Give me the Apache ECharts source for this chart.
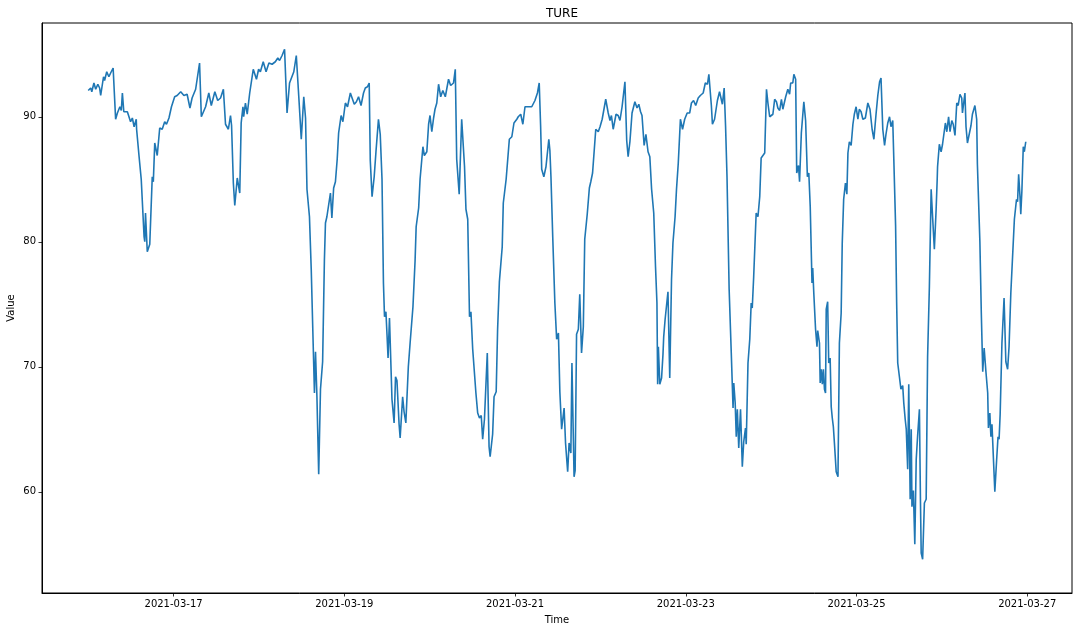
<!DOCTYPE html>
<html><head><meta charset="utf-8">
<script src="https://cdn.jsdelivr.net/npm/echarts@6/dist/echarts.min.js"></script>
<style>html,body{margin:0;padding:0;background:#fff}#c{width:1080px;height:632px}</style>
</head><body><div id="c"></div>
<script>
const chartTitle = 'TURE';
const xAxisName = 'Time';
const yAxisName = 'Value';
const startDay = '2021-03-16';           // readings are [hours after 2021-03-16 00:00, value]
const xTickDates = ['2021-03-17','2021-03-19','2021-03-21','2021-03-23','2021-03-25','2021-03-27'];
const yTicks = [60, 70, 80, 90];
const xRangeHours = [-13, 276.6];
const yRange = [51.9, 97.5];

const readings = [
[0,92.1],[0.7,92.3],[1.0,92.0],[1.6,92.7],[2.1,92.2],[2.7,92.6],[3.2,92.3],[3.5,91.7],[4.3,93.2],[4.6,92.9],
[5.2,93.6],[5.8,93.2],[6.3,93.5],[7.0,93.9],[7.7,89.8],[8.2,90.3],[8.9,90.8],[9.3,90.5],[9.6,91.9],[10.0,90.4],
[11.0,90.4],[11.9,89.6],[12.4,89.9],[12.9,89.2],[13.5,89.8],[13.6,89.0],[14.3,86.8],[14.9,85.0],[15.7,80.4],[15.9,80.0],
[16.1,82.3],[16.6,79.2],[17.3,79.8],[18.0,85.2],[18.3,84.8],[18.7,87.9],[19.4,86.9],[20.1,89.1],[20.8,89.0],[21.5,89.6],
[22.0,89.4],[22.7,89.9],[23.4,90.8],[24.3,91.6],[25.0,91.7],[26.0,92.0],[26.9,91.7],[27.8,91.8],[28.6,90.7],[29.2,91.5],
[30.2,92.2],[31.3,94.3],[31.8,90.0],[33.0,90.8],[33.9,91.9],[34.6,90.9],[35.6,92.0],[36.4,91.3],[37.2,91.5],[38.0,92.2],
[38.6,89.4],[39.4,89.0],[40.0,90.1],[40.3,89.3],[40.8,84.7],[41.2,82.9],[41.9,85.1],[42.6,83.9],[43.0,89.5],[43.5,90.8],
[43.7,90.0],[44.2,91.1],[44.7,90.2],[45.4,91.9],[45.9,92.0],[46.4,93.8],[47.3,93.0],[47.9,93.8],
[48.4,93.6],[49.2,94.4],[50.0,93.6],[50.8,94.3],[51.7,94.2],[52.6,94.4],[53.3,94.7],[53.8,94.5],[54.5,94.9],[55.2,95.4],
[55.9,90.3],[56.6,92.7],[57.1,92.7],[57.8,93.6],[58.5,94.9],[59.2,91.6],[59.6,91.5],[59.9,88.2],[60.6,91.6],[61.1,89.9],
[61.5,84.2],[62.2,82.0],[62.7,77.8],[63.6,67.9],[63.9,71.2],[64.3,67.6],[64.8,61.4],[65.3,68.2],[65.9,70.4],[66.4,78.5],
[66.7,81.5],[67.1,82.0],[67.6,81.9],[68.1,83.9],[68.5,81.9],[69.0,84.3],[69.5,84.8],[70.0,86.6],[70.4,88.7],[71.1,90.1],
[71.6,89.6],[72.3,91.1],[72.9,90.8],[73.7,91.9],[74.2,92.0],[74.8,91.0],[75.4,91.2],[76.0,91.6],[76.7,90.9],[77.4,91.9],
[77.9,92.3],[78.5,92.4],[79.0,92.7],[79.3,86.5],[79.8,83.6],[80.4,85.2],[80.9,87.2],[81.6,89.8],[82.1,88.6],[82.6,85.0],
[83.0,76.7],[83.3,74.0],[83.7,74.4],[84.0,72.6],[84.3,70.7],[84.7,73.9],[85.4,67.4],[86.0,65.5],[86.4,69.2],[86.8,68.9],
[87.4,65.4],[87.7,64.3],[88.4,67.6],[88.8,66.4],[89.3,65.5],[90.0,70.0],[90.5,71.9],[91.3,74.8],[91.9,78.5],[92.2,81.2],
[92.9,82.7],[93.3,85.0],[94.1,87.6],[94.5,86.9],[95.2,87.2],[95.7,89.4],[96.1,90.1],
[96.6,88.8],[97.1,89.9],[97.5,90.6],[98.0,91.1],[98.5,92.6],[99.1,91.6],[99.7,92.1],[100.4,91.6],[101.3,93.0],[101.9,92.5],
[102.7,92.7],[103.2,93.8],[103.6,86.6],[104.3,83.8],[105.0,89.8],[105.8,86.0],[106.2,82.6],[106.7,81.8],[107.2,74.0],[107.6,74.4],
[108.1,71.4],[109.0,67.9],[109.5,66.3],[110.0,65.9],[110.5,66.1],[110.9,64.2],[111.4,65.8],[111.9,65.7],[112.2,71.1],[112.7,63.6],
[113.0,62.8],[113.7,64.6],[114.1,67.6],[114.7,68.0],[115.1,73.0],[115.6,76.8],[116.1,76.7],[116.4,79.6],[116.7,83.1],[117.5,85.0],
[117.8,85.1],[118.4,88.2],[119.1,88.4],[119.7,89.5],[120.5,89.8],[120.9,90.0],[121.6,90.2],[122.2,89.4],[122.8,90.8],[123.7,90.8],
[124.7,90.8],[125.6,91.3],[126.3,91.9],[126.8,92.7],[127.2,89.2],[127.5,85.8],[128.1,85.2],[128.7,86.0],[129.5,88.2],[129.8,87.3],
[130.1,85.2],[130.6,80.4],[131.2,75.1],[131.7,72.2],[132.2,72.7],[132.6,68.0],[133.1,65.0],[133.8,66.7],[134.2,63.9],[134.8,61.6],
[135.2,63.9],[135.7,63.1],[136.0,70.3],[136.6,61.2],[136.9,61.7],[137.3,72.6],[137.8,73.0],[138.2,75.8],[138.7,71.1],[139.2,73.2],
[139.6,80.2],[140.3,82.2],[140.9,84.3],[141.3,84.8],[141.8,85.5],[142.3,85.6],[142.7,89.0],[143.4,88.8],[143.9,89.2],[144.5,89.8],
[145.0,90.6],[145.5,91.4],[146.2,90.3],[146.7,89.7],[147.1,90.1],[147.6,89.0],[148.4,90.2],[149.0,90.1],[149.5,89.7],[150.1,90.8],
[150.9,92.8],[151.4,88.1],[151.8,86.8],[152.3,88.0],[152.9,90.3],[153.7,91.2],[154.3,90.7],[154.8,91.0],[155.3,90.4],[155.7,90.1],
[156.3,87.7],[156.8,88.6],[157.4,87.2],[157.9,86.8],[158.4,84.2],[159.0,82.3],[159.5,78.0],[159.9,75.1],[160.1,68.6],[160.3,71.6],
[160.7,68.6],[161.2,69.1],[161.6,71.0],[161.8,72.4],[162.2,73.8],[163.0,76.0],[163.5,69.1],[164.0,77.0],[164.4,79.9],[165.0,82.0],
[165.4,84.2],[165.9,86.3],[166.5,89.8],[167.1,89.0],[167.7,89.8],[168.4,90.3],[169.1,90.3],[169.6,91.1],[170.2,91.3],[170.8,90.9],
[171.5,91.5],[172.1,91.7],[172.9,91.9],[173.5,92.7],[174.1,92.6],[174.5,93.4],[175.2,90.9],[175.5,89.4],[176.1,89.8],[176.9,91.3],
[177.5,92.0],[178.0,91.9],[178.3,91.0],[178.8,92.3],[179.2,89.2],[179.6,85.2],[180.2,76.2],[180.8,71.1],[181.3,66.7],[181.5,68.7],
[181.9,67.1],[182.2,64.4],[182.5,66.6],[182.9,63.5],[183.4,66.6],[183.9,62.0],[184.3,64.0],[184.8,65.1],[185.0,63.8],[185.5,70.3],
[186.0,72.2],[186.4,75.1],[186.7,74.7],[187.1,77.2],[187.8,82.3],[188.3,82.0],[188.8,83.6],[189.2,86.7],[189.7,86.8],[190.2,87.1],
[190.7,92.2],[191.1,91.1],[191.6,90.0],[192.5,90.2],[193.0,91.4],[193.5,91.2],[193.9,90.7],[194.4,90.5],[194.9,91.4],[195.3,90.6],
[196.1,91.6],[196.7,92.2],[197.2,91.8],[197.5,92.7],[198.1,92.7],[198.4,93.4],[198.9,93.0],[199.2,85.5],[199.7,86.1],[200.0,84.8],
[200.5,88.7],[201.2,91.2],[201.7,89.7],[202.2,85.2],[202.6,85.5],[203.0,82.8],[203.5,76.7],[203.7,77.9],[204.0,75.9],[204.5,73.0],
[204.9,71.6],[205.1,72.9],[205.6,71.9],[205.8,68.7],[206.1,69.8],[206.4,68.6],[206.7,69.8],[207.0,68.2],[207.3,67.9],[207.5,74.6],
[207.9,75.2],[208.2,70.3],[208.6,70.7],[208.9,66.8],[209.2,65.9],[209.5,65.2],[209.8,63.9],[210.3,61.6],[210.8,61.2],[211.2,71.9],
[211.7,74.3],[212.0,79.9],[212.4,83.4],[212.9,84.7],[213.3,83.8],[213.6,87.1],[214.0,88.0],[214.5,87.7],[215.0,89.4],[215.4,90.2],
[215.9,90.8],[216.4,89.8],[216.8,90.6],[217.3,90.4],[217.8,89.8],[218.5,89.9],[219.2,91.1],[219.8,90.6],[220.4,89.0],[220.9,88.2],
[221.5,90.2],[222.0,91.7],[222.5,92.8],[222.9,93.1],[223.4,89.0],[223.9,87.7],[224.3,88.6],[224.8,89.5],[225.3,90.0],[225.7,89.2],
[226.2,89.7],[226.5,86.6],[227.0,81.3],[227.3,75.1],[227.6,70.3],[228.1,70.4],[228.5,68.2],[229.0,68.5],[229.3,67.1],[229.7,65.8],
[230.0,65.0],[230.4,61.8],[230.7,68.6],[231.1,59.4],[231.4,65.0],[231.6,58.8],[232.0,60.1],[232.4,55.8],[232.8,62.6],[233.2,64.5],
[233.7,66.6],[234.0,59.1],[234.2,55.1],[234.6,54.6],[235.1,59.1],[235.6,59.4],[236.0,70.8],[236.5,76.4],[237.0,84.2],[237.4,82.0],
[237.9,79.4],[238.4,82.6],[238.7,85.0],[238.8,86.0],[239.3,87.8],[239.8,87.2],[240.2,87.8],[240.7,87.9],[241.0,89.5],[241.4,88.8],
[241.9,90.0],[242.3,88.8],[242.8,89.7],[243.2,89.4],[243.7,88.5],[244.2,91.1],[244.6,90.9],[245.1,91.8],[245.6,91.5],[245.8,90.3],
[246.5,91.9],[246.8,89.2],[247.2,87.9],[247.7,88.0],[248.2,89.3],[248.6,90.2],[249.3,90.9],[249.8,89.8],[250.0,86.2],[250.3,86.1],
[250.7,80.0],[251.1,74.3],[251.5,69.6],[251.9,71.5],[252.4,69.6],[252.9,67.9],[253.1,65.1],[253.5,66.3],[253.8,64.4],[254.1,65.4],
[254.5,65.3],[254.9,60.0],[255.4,62.5],[255.8,64.4],[256.1,64.2],[256.4,66.2],[256.9,71.9],[257.5,75.5],[258.0,70.4],[258.5,69.8],
[258.9,71.6],[259.4,75.9],[259.9,75.9],[260.4,81.8],[261.0,83.4],[261.3,83.2],[261.6,85.4],[262.0,83.5],[262.2,82.2],[262.5,84.0],
[262.9,87.6],[263.2,87.2],[263.6,88.0]
];

function localDay(s) { const p = s.split('-').map(Number); return new Date(p[0], p[1] - 1, p[2]).getTime(); }
const t0 = localDay(startDay);
const HOUR = 3600 * 1000;
const seriesData = readings.map(r => [t0 + r[0] * HOUR, r[1]]);
const xTickValues = xTickDates.map(localDay);
const pad = n => (n < 10 ? '0' : '') + n;
const fmtDate = v => { const d = new Date(v); return d.getFullYear() + '-' + pad(d.getMonth() + 1) + '-' + pad(d.getDate()); };

const FONT = 'DejaVu Sans';
const chart = echarts.init(document.getElementById('c'), null, { renderer: 'canvas' });
chart.setOption({
  animation: false,
  backgroundColor: '#fff',
  title: {
    text: chartTitle, left: 557, top: 3, textAlign: 'center',
    textStyle: { fontFamily: FONT, fontSize: 12, fontWeight: 'normal', color: '#000' }
  },
  grid: { left: 42, right: 8, top: 23, bottom: 39, containLabel: false, outerBoundsMode: 'none',
          show: true, borderColor: '#000', borderWidth: 1, backgroundColor: 'transparent' },
  xAxis: {
    type: 'value',
    min: t0 + xRangeHours[0] * HOUR, max: t0 + xRangeHours[1] * HOUR,
    name: xAxisName, nameLocation: 'middle', nameGap: 22, nameMoveOverlap: false,
    nameTextStyle: { fontFamily: FONT, fontSize: 10, color: '#000' },
    axisLine: { show: true, onZero: false, lineStyle: { color: '#000', width: 1 } },
    axisTick: { show: true, inside: false, length: 3.5, lineStyle: { color: '#000', width: 0.8 }, customValues: xTickValues },
    axisLabel: { fontFamily: FONT, fontSize: 10, color: '#000', margin: 6, customValues: xTickValues, formatter: fmtDate },
    splitLine: { show: false }
  },
  yAxis: {
    type: 'value',
    min: yRange[0], max: yRange[1],
    name: yAxisName, nameLocation: 'middle', nameGap: 26, nameMoveOverlap: false,
    nameTextStyle: { fontFamily: FONT, fontSize: 10, color: '#000' },
    axisLine: { show: true, onZero: false, lineStyle: { color: '#000', width: 1 } },
    axisTick: { show: true, inside: false, length: 3.5, lineStyle: { color: '#000', width: 0.8 }, customValues: yTicks },
    axisLabel: { fontFamily: FONT, fontSize: 10, color: '#000', margin: 6, customValues: yTicks },
    splitLine: { show: false }
  },
  series: [{
    type: 'line', data: seriesData, showSymbol: false, symbol: 'none',
    lineStyle: { color: '#1f77b4', width: 1.6 }, sampling: null
  }]
});
</script></body></html>
